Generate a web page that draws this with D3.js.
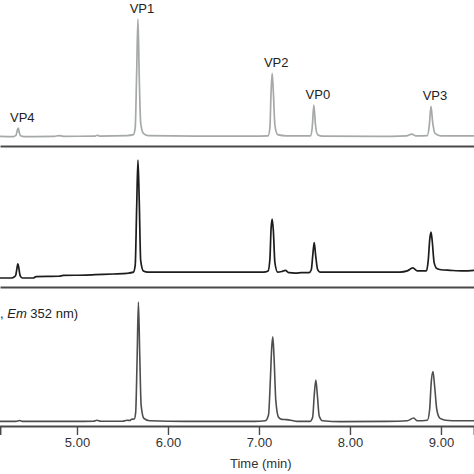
<!DOCTYPE html>
<html>
<head>
<meta charset="utf-8">
<script src="https://cdn.jsdelivr.net/npm/d3@7"></script>
<style>
	body { margin: 0; background: #fff; }
	svg { display: block; font-family: Arial, "Liberation Sans", sans-serif; }
	.axis path { stroke: #4a4a4a; stroke-width: 1.9; }
	.axis line { stroke: #4a4a4a; stroke-width: 1.4; }
	.axis text { fill: #333; font-size: 13px; }
</style>
</head>
<body>
<div id="chart"></div>
<script>
// retention time (min), signal (relative, VP1 = 100)
var trace1 = [
	[4.154, 0.5], [4.30, 0.3], [4.33, 1.5], [4.345, 6], [4.355, 7.5], [4.365, 4], [4.38, 1], [4.42, 0.3],
	[4.75, 0.5], [4.80, 1.2], [4.85, 0.6], [5.20, 0.8], [5.22, 1.5], [5.25, 0.8], [5.55, 1.2], [5.62, 2],
	[5.64, 8], [5.656, 55], [5.67, 100], [5.684, 52], [5.70, 12], [5.73, 3], [5.78, 1.2], [6.3, 0.8],
	[6.9, 0.8], [7.10, 1], [7.12, 8], [7.133, 38], [7.145, 54], [7.158, 38], [7.175, 10], [7.205, 2],
	[7.30, 1], [7.565, 1], [7.585, 8], [7.603, 27], [7.62, 11], [7.645, 2], [7.70, 0.8], [8.3, 0.5],
	[8.62, 1], [8.68, 2.5], [8.72, 1], [8.85, 1.2], [8.872, 10], [8.89, 26], [8.908, 13], [8.935, 3],
	[9.0, 1], [9.363, 1]
];

var trace2 = [
	[4.154, 0], [4.27, 0], [4.30, 0.5], [4.325, 2], [4.34, 8], [4.35, 12], [4.36, 9], [4.375, 2],
	[4.40, 0], [4.52, 0], [4.55, 1.2], [4.80, 1.5], [4.85, 2.2], [5.10, 2.5], [5.20, 2.8], [5.40, 3.4],
	[5.55, 4], [5.62, 5], [5.64, 11], [5.656, 60], [5.67, 100], [5.684, 66], [5.70, 15], [5.73, 6],
	[5.78, 5], [6.5, 5], [7.05, 5], [7.10, 6], [7.12, 16], [7.133, 42], [7.145, 50], [7.158, 40],
	[7.175, 13], [7.205, 5], [7.25, 5.5], [7.29, 6.5], [7.33, 4.5], [7.40, 4.2], [7.47, 4.5], [7.55, 4.5],
	[7.575, 7], [7.592, 20], [7.607, 30], [7.623, 19], [7.645, 7], [7.67, 5], [8.0, 5], [8.55, 5],
	[8.63, 6], [8.69, 8.5], [8.74, 6], [8.84, 6], [8.86, 15], [8.877, 33], [8.89, 39], [8.903, 32],
	[8.925, 13], [8.955, 8], [9.0, 7], [9.10, 6.5], [9.25, 6], [9.363, 6.5]
];

var trace3 = [
	[4.154, 0.5], [4.33, 0.5], [4.37, 1.2], [4.40, 0.5], [5.0, 0.5], [5.18, 0.6], [5.22, 1.5], [5.26, 0.6],
	[5.50, 0.6], [5.55, 1.5], [5.58, 1.2], [5.60, 2.3], [5.63, 2.5], [5.645, 8], [5.66, 50], [5.675, 100],
	[5.69, 55], [5.705, 14], [5.735, 3], [5.80, 1], [6.2, 0.5], [6.95, 0.5], [7.07, 1], [7.105, 6],
	[7.125, 35], [7.14, 62], [7.152, 71], [7.165, 55], [7.185, 18], [7.215, 4], [7.25, 2.2], [7.30, 2],
	[7.35, 1.5], [7.42, 0.5], [7.56, 0.5], [7.59, 4], [7.607, 22], [7.625, 35], [7.642, 22], [7.662, 5],
	[7.70, 1], [7.9, 0.3], [8.4, 0.5], [8.63, 1], [8.70, 3.3], [8.74, 1], [8.85, 1.5], [8.875, 10],
	[8.893, 33], [8.912, 42], [8.93, 30], [8.955, 10], [8.99, 3], [9.05, 1.5], [9.2, 1], [9.363, 1]
];

var peakNames = ['VP4', 'VP1', 'VP2', 'VP0', 'VP3'];
var peakTimes = [4.355, 5.67, 7.145, 7.603, 8.89];
var peakHeights = [7.5, 100, 54, 27, 26];

var timeTicks = [5, 6, 7, 8, 9];
var timeDomain = [4.154, 9.363];

var width = 474, height = 474;

var svg = d3.select('#chart').append('svg')
	.attr('width', width)
	.attr('height', height);

var x = d3.scaleLinear().domain(timeDomain).range([0, width]);

var panels = [
	{ data: trace1, base: 137, top: 19, axisY: 146, color: '#a5a9a7', lw: 1.7 },
	{ data: trace2, base: 278, top: 160, axisY: 287, color: '#1c1c1c', lw: 1.7 },
	{ data: trace3, base: 422, top: 302, axisY: 426, color: '#4d4f4e', lw: 1.6 }
];

panels.forEach(function(p, i) {
	p.y = d3.scaleLinear().domain([0, 100]).range([p.base, p.top]);

	var axis = d3.axisBottom(x).tickSizeOuter(0);
	if (i < 2) {
		axis.tickValues([]);
	} else {
		axis.tickValues(timeTicks).tickSize(9).tickPadding(3).tickFormat(d3.format('.2f'));
	}
	svg.append('g')
		.attr('class', 'axis')
		.attr('transform', 'translate(0,' + p.axisY + ')')
		.call(axis);

	var line = d3.line()
		.x(function(d) { return x(d[0]); })
		.y(function(d) { return p.y(d[1]); })
		.curve(d3.curveMonotoneX);

	svg.append('path')
		.datum(p.data)
		.attr('fill', 'none')
		.attr('stroke', p.color)
		.attr('stroke-width', p.lw)
		.attr('stroke-linejoin', 'round')
		.attr('d', line);
});

// peak labels on the top trace
var y1 = panels[0].y;
svg.selectAll('.peak-label')
	.data(peakNames)
	.enter()
	.append('text')
		.attr('class', 'peak-label')
		.attr('x', function(d, i) { return x(peakTimes[i]) + 4; })
		.attr('y', function(d, i) { return y1(peakHeights[i]) - 6; })
		.attr('text-anchor', 'middle')
		.attr('fill', '#222')
		.attr('font-size', 13)
		.text(function(d) { return d; });

// detector note, cut at the left edge
var note = svg.append('text')
	.attr('x', 0)
	.attr('y', 318)
	.attr('fill', '#222')
	.attr('font-size', 13);
note.append('tspan').text(', ');
note.append('tspan').attr('font-style', 'italic').text('Em');
note.append('tspan').text(' 352 nm)');

svg.append('text')
	.attr('x', x(7.02))
	.attr('y', 468)
	.attr('text-anchor', 'middle')
	.attr('fill', '#333')
	.attr('font-size', 13)
	.text('Time (min)');
</script>
</body>
</html>
